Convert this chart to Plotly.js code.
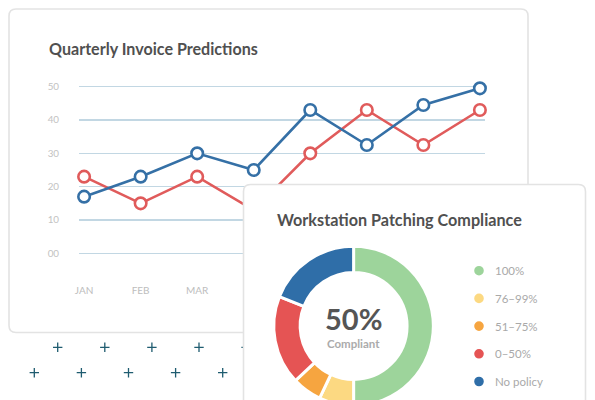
<!DOCTYPE html>
<html><head><meta charset="utf-8">
<script src="https://cdn.plot.ly/plotly-3.0.1.min.js"></script>
<style>
html,body{margin:0;padding:0;background:#fff;width:595px;height:400px;overflow:hidden;}
#line,#donut{position:absolute;left:0;top:0;}
</style></head><body>
<div id="line"></div><div id="donut"></div>
<script>
// ---- data ----
const months = ['JAN','FEB','MAR','APR','MAY','JUN','JUL','AUG'];
const seriesBlue = [17,23,30,25,43,32.5,44.5,49.5];
const seriesRed = [23,15,23,13,30,43,32.5,43];
const yTickVals = [0,10,20,30,40,50];
const complianceLabels = ['100%','76–99%','51–75%','0–50%','No policy'];
const complianceValues = [50,7,6,18,19];
const complianceColors = ['#9dd49b','#fcd982','#f6a540','#e55454','#2f6ea8'];
const lineTitle = 'Quarterly Invoice Predictions';
const donutTitle = 'Workstation Patching Compliance';
const centerSub = 'Compliant';

const FONT = 'Lato, "Open Sans", sans-serif';
const W = 595;

function rrPath(x0,y0,x1,y1,r,H){
  const X = p => (p/W).toFixed(5), Y = p => (1-p/H).toFixed(5);
  return `M${X(x0+r)},${Y(y0)} L${X(x1-r)},${Y(y0)} Q${X(x1)},${Y(y0)} ${X(x1)},${Y(y0+r)} `+
         `L${X(x1)},${Y(y1-r)} Q${X(x1)},${Y(y1)} ${X(x1-r)},${Y(y1)} L${X(x0+r)},${Y(y1)} `+
         `Q${X(x0)},${Y(y1)} ${X(x0)},${Y(y1-r)} L${X(x0)},${Y(y0+r)} Q${X(x0)},${Y(y0)} ${X(x0+r)},${Y(y0)} Z`;
}

// ---- line chart ----
const H1 = 400;
const shapes1 = [{type:'path', xref:'paper', yref:'paper', layer:'below',
  path: rrPath(9,9,528,332.5,7,H1), fillcolor:'#ffffff', line:{color:'#e3e3e3', width:1.6}}];
function plus(cx,cy){
  const a=4.7;
  return {type:'path', xref:'paper', yref:'paper', layer:'below',
    path:`M${(cx-a)/W},${1-cy/H1} L${(cx+a)/W},${1-cy/H1} M${cx/W},${1-(cy-a)/H1} L${cx/W},${1-(cy+a)/H1}`,
    line:{color:'#1f5c70', width:1.3}};
}
for(let i=0;i<5;i++){ shapes1.push(plus(57.7+i*47.1,347.3)); shapes1.push(plus(34.3+i*47.1,372.7)); }

const mk = (vals,color)=>({
  type:'scatter', mode:'lines+markers', x:months, y:vals, cliponaxis:false, hoverinfo:'skip',
  line:{color:color, width:2.6},
  marker:{size:11.5, color:'#ffffff', line:{color:color, width:2.6}}
});

Plotly.newPlot('line', [mk(seriesRed,'#e05b5b'), mk(seriesBlue,'#3570a6')], {
  width:W, height:H1, margin:{l:0,r:0,t:0,b:0},
  paper_bgcolor:'rgba(0,0,0,0)', plot_bgcolor:'rgba(0,0,0,0)', showlegend:false,
  xaxis:{type:'category', categoryarray:months, range:[-0.09,7.09], domain:[79/W,485/W],
    showgrid:false, zeroline:false, showline:false, ticks:'outside', ticklen:21, tickcolor:'rgba(0,0,0,0)',
    tickfont:{family:FONT, size:10, color:'#bdbdbd'}, fixedrange:true},
  yaxis:{range:[-2,52], domain:[0.35,0.8], tickvals:yTickVals, tickformat:'02d',
    showgrid:true, gridcolor:'#c2d7e3', gridwidth:1.6, zeroline:false, showline:false,
    ticks:'outside', ticklen:17, tickcolor:'rgba(0,0,0,0)',
    tickfont:{family:FONT, size:9.8, color:'#c2c2c2'}, fixedrange:true},
  shapes:shapes1,
  annotations:[{xref:'paper', yref:'paper', x:47/W, y:1-48/H1, xanchor:'left', yanchor:'middle',
    text:lineTitle, showarrow:false, font:{family:FONT, size:16.1, color:'#505050', weight:'bold'}}]
}, {staticPlot:true});

// ---- donut ----
const H2 = 420;
const total = complianceValues.reduce((a,b)=>a+b,0);
const pct = Math.round(complianceValues[0]/total*100)+'%';
const cx=353.6, cy=326, R=79.8;
const shapes2 = [{type:'path', xref:'paper', yref:'paper', layer:'below',
  path: rrPath(243.5,184.5,585.5,440,7,H2), fillcolor:'#ffffff', line:{color:'#e3e3e3', width:1.6}}];
const ann2 = [
  {xref:'paper', yref:'paper', x:275/W, y:1-219/H2, xanchor:'left', yanchor:'middle', text:donutTitle,
   showarrow:false, font:{family:FONT, size:16.2, color:'#505050', weight:'bold'}},
  {xref:'paper', yref:'paper', x:cx/W, y:1-318/H2, xanchor:'center', yanchor:'middle', text:pct,
   showarrow:false, font:{family:FONT, size:29, color:'#555555', weight:'bold'}},
  {xref:'paper', yref:'paper', x:cx/W, y:1-343/H2, xanchor:'center', yanchor:'middle', text:centerSub,
   showarrow:false, font:{family:FONT, size:11.5, color:'#ababab', weight:'bold'}}
];
complianceLabels.forEach((lab,i)=>{
  const ly = 270.7 + i*27.7, r=4.8;
  shapes2.push({type:'circle', xref:'paper', yref:'paper', x0:(479-r)/W, x1:(479+r)/W,
    y0:1-(ly+r)/H2, y1:1-(ly-r)/H2, fillcolor:complianceColors[i], line:{width:0}});
  ann2.push({xref:'paper', yref:'paper', x:493/W, y:1-ly/H2, xanchor:'left', yanchor:'middle', text:lab,
    showarrow:false, font:{family:FONT, size:11.5, color:'#a9a9a9'}});
});

Plotly.newPlot('donut', [{
  type:'pie', labels:complianceLabels, values:complianceValues, sort:false, direction:'clockwise', rotation:0,
  hole:0.67, textinfo:'none', hoverinfo:'skip', showlegend:false,
  marker:{colors:complianceColors, line:{color:'#ffffff', width:3}},
  domain:{x:[(cx-R)/W,(cx+R)/W], y:[1-(cy+R)/H2, 1-(cy-R)/H2]}
}], {
  width:W, height:H2, margin:{l:0,r:0,t:0,b:0},
  paper_bgcolor:'rgba(0,0,0,0)', showlegend:false, shapes:shapes2, annotations:ann2
}, {staticPlot:true});
</script></body></html>
